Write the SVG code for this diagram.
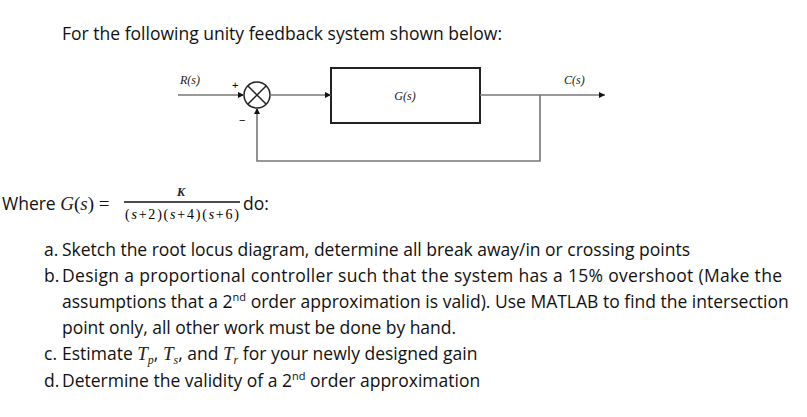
<svg xmlns="http://www.w3.org/2000/svg" width="807" height="417" viewBox="0 0 807 417">
<defs>
<style>
.t{font-family:"Open Sans","Liberation Sans",sans-serif;font-size:17.5px;fill:#111}
.m{font-family:"Liberation Serif",serif;font-style:italic;fill:#222}
.ln{stroke:#777;stroke-width:1.6;fill:none}
</style>
<marker id="a" viewBox="0 0 10 10" refX="10" refY="5" markerWidth="8" markerHeight="6" orient="auto" markerUnits="userSpaceOnUse"><path d="M0,0L10,5L0,10z" fill="#111"/></marker>
</defs>
<rect width="807" height="417" fill="#fff"/>
<text class="t" x="62" y="40" textLength="440">For the following unity feedback system shown below:</text>
<g id="sum">
<circle cx="257" cy="95" r="13" fill="#fff" stroke="#222" stroke-width="1.5"/>
<path d="M248,86L266,104M266,86L248,104" stroke="#222" stroke-width="1.5"/>
<text x="232" y="89" font-family="Liberation Sans" font-size="11">+</text>
<text x="239" y="124" font-family="Liberation Sans" font-size="11">−</text>
</g>
<g id="G">
<rect x="331" y="68" width="149" height="55" fill="#fff" stroke="#222" stroke-width="2"/>
<text class="m" x="405" y="100" font-size="12" text-anchor="middle">G(s)</text>
</g>
<g id="labels">
<text class="m" x="180" y="84" font-size="12">R(s)</text>
<text class="m" x="564" y="84" font-size="12">C(s)</text>
</g>
<g id="connectors">
<path class="ln" d="M178,95H244" marker-end="url(#a)"/>
<path class="ln" d="M270,95H331" marker-end="url(#a)"/>
<path class="ln" d="M480,95H605" marker-end="url(#a)"/>
<path class="ln" d="M540,95V161H257V108" marker-end="url(#a)"/>
</g>
<text class="t" x="2" y="210">Where <tspan class="m" font-size="19">G</tspan><tspan font-family="Liberation Serif" font-size="19">(</tspan><tspan class="m" font-size="19">s</tspan><tspan font-family="Liberation Serif" font-size="19">) =</tspan></text>
<text class="m" x="181" y="196" font-size="12" font-weight="bold" text-anchor="middle">K</text>
<line x1="124" y1="202" x2="240" y2="202" stroke="#111" stroke-width="1.5"/>
<text x="182" y="219" font-family="Liberation Serif" font-size="14" text-anchor="middle" textLength="114">(<tspan font-style="italic">s</tspan>+2)(<tspan font-style="italic">s</tspan>+4)(<tspan font-style="italic">s</tspan>+6)</text>
<text class="t" x="243" y="210">do:</text>
<text class="t" x="44" y="256">a.</text><text class="t" x="62" y="256" textLength="628">Sketch the root locus diagram, determine all break away/in or crossing points</text>
<text class="t" x="44" y="282">b.</text><text class="t" x="62" y="282" textLength="720">Design a proportional controller such that the system has a 15% overshoot (Make the</text>
<text class="t" x="62" y="308">assumptions that a 2<tspan font-size="11" dy="-7">nd</tspan><tspan dy="7"> order approximation is valid). Use MATLAB to find the intersection</tspan></text>
<text class="t" x="62" y="334" textLength="394">point only, all other work must be done by hand.</text>
<text class="t" x="44" y="360">c.</text><text class="t" x="62" y="360">Estimate <tspan class="m" font-size="19">T</tspan><tspan class="m" font-size="12" dy="4">p</tspan><tspan dy="-4">, </tspan><tspan class="m" font-size="19">T</tspan><tspan class="m" font-size="12" dy="4">s</tspan><tspan dy="-4">, and </tspan><tspan class="m" font-size="19">T</tspan><tspan class="m" font-size="12" dy="4">r</tspan><tspan dy="-4"> for your newly designed gain</tspan></text>
<text class="t" x="44" y="387">d.</text><text class="t" x="62" y="387">Determine the validity of a 2<tspan font-size="11" dy="-7">nd</tspan><tspan dy="7"> order approximation</tspan></text>
</svg>
